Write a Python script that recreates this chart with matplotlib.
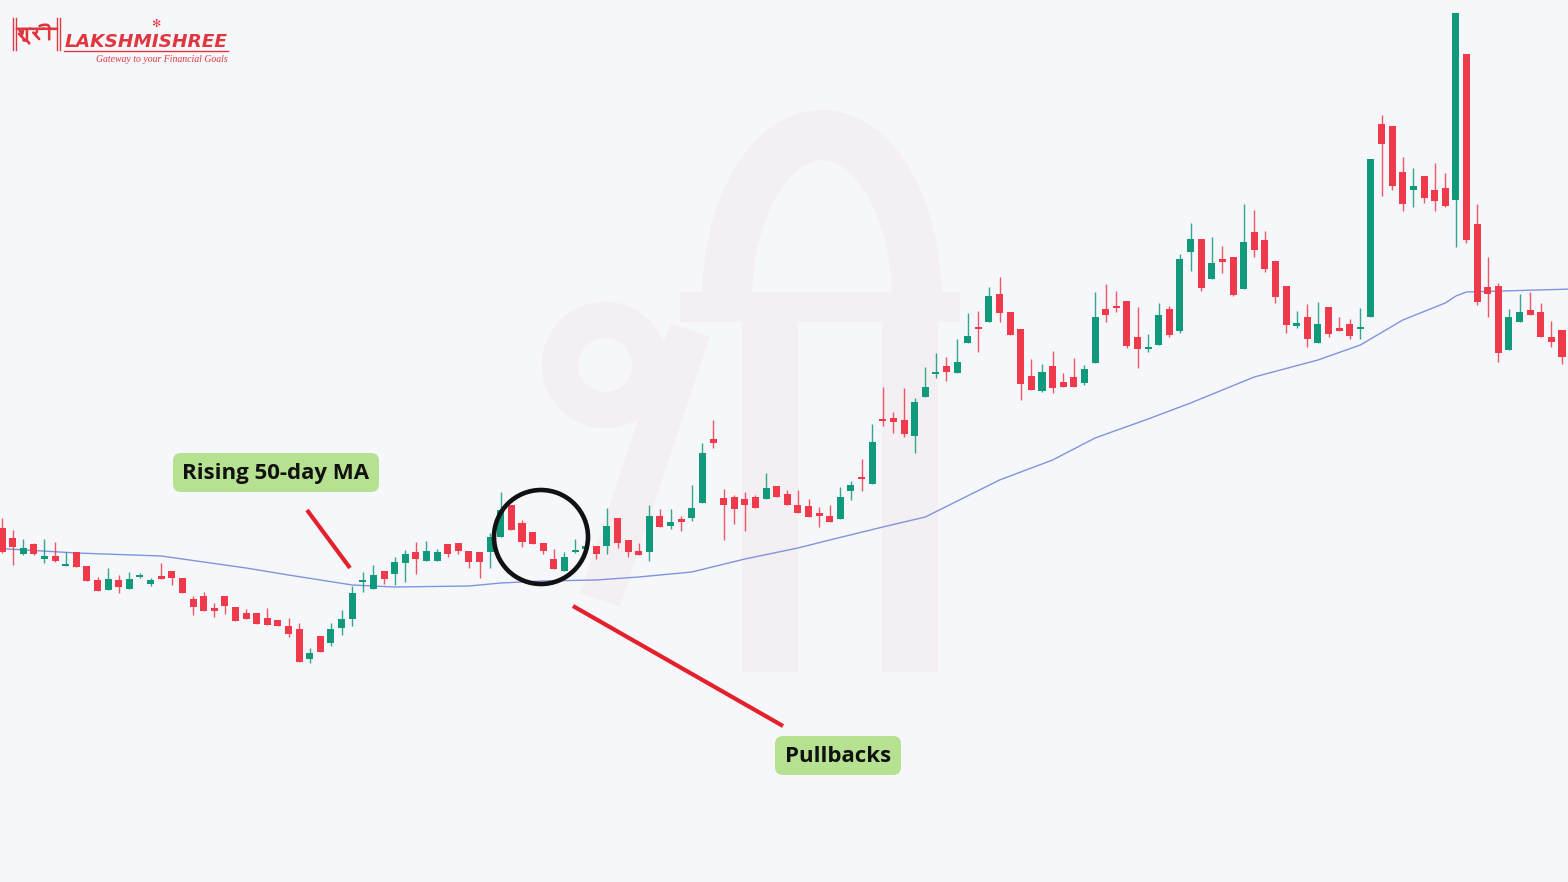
import matplotlib.pyplot as plt
import matplotlib.patheffects as pe
from matplotlib.patches import FancyBboxPatch, Circle, Rectangle, Arc
from matplotlib.font_manager import fontManager, FontProperties
from matplotlib.ft2font import FT2Font

# OHLC values, one candle per session
opens = [172, 162, 146, 156, 141, 144, 134, 148, 134, 120,
         110, 120, 111, 123, 116, 124, 129, 122, 101, 104,
         92, 104, 93, 87, 87, 82, 80, 74, 71, 41,
         64, 57, 72, 81, 118, 111, 129, 126, 137, 148,
         139, 139, 156, 157, 149, 148, 148, 163, 195, 177,
         168, 157, 141, 129, 148, 151, 154, 154, 182, 160,
         149, 148, 184, 174, 181, 182, 197, 261, 202, 203,
         201, 203, 201, 214, 206, 195, 194, 187, 184, 181,
         209, 223, 216, 281, 282, 280, 264, 303, 326, 334,
         327, 357, 373, 378, 406, 388, 371, 324, 309, 334,
         318, 323, 317, 337, 391, 394, 399, 363, 351, 355,
         391, 369, 448, 461, 421, 441, 443, 411, 468, 460,
         439, 414, 374, 383, 357, 393, 372, 376, 371, 383,
         576, 574, 528, 510, 524, 510, 512, 500, 646, 476,
         413, 414, 350, 378, 390, 388, 363, 370]
closes = [148, 153, 152, 146, 144, 139, 136, 133, 119, 109,
          121, 113, 121, 125, 120, 121, 122, 107, 93, 89,
          89, 94, 79, 81, 76, 75, 74, 66, 38, 47,
          48, 71, 81, 107, 120, 125, 121, 138, 146, 141,
          149, 148, 146, 149, 138, 138, 163, 190, 170, 158,
          156, 149, 131, 143, 150, 154, 146, 174, 157, 148,
          145, 184, 173, 178, 178, 192, 247, 257, 195, 191,
          195, 192, 212, 203, 195, 187, 183, 184, 178, 203,
          215, 221, 258, 279, 278, 266, 298, 313, 328, 328,
          338, 364, 371, 404, 387, 365, 316, 310, 328, 312,
          313, 313, 331, 383, 385, 392, 354, 351, 353, 385,
          365, 441, 461, 412, 437, 438, 405, 458, 450, 431,
          403, 375, 377, 361, 376, 366, 369, 364, 372, 541,
          556, 514, 496, 514, 502, 499, 494, 687, 460, 398,
          406, 347, 383, 388, 385, 363, 358, 343]
highs = [182, 170, 161, 157, 161, 158, 148, 148, 134, 123,
         132, 125, 128, 127, 122, 137, 129, 122, 104, 108,
         97, 104, 93, 91, 87, 92, 80, 82, 77, 52,
         64, 77, 90, 114, 128, 135, 129, 143, 150, 158,
         159, 151, 156, 157, 149, 148, 167, 208, 195, 180,
         168, 157, 151, 148, 161, 160, 154, 192, 182, 160,
         157, 195, 191, 191, 184, 215, 257, 280, 211, 205,
         208, 205, 227, 214, 210, 210, 201, 193, 195, 213,
         219, 241, 276, 313, 288, 312, 302, 333, 347, 343,
         361, 387, 389, 413, 423, 388, 371, 341, 336, 349,
         327, 342, 335, 408, 416, 409, 399, 393, 366, 397,
         394, 446, 477, 461, 463, 454, 443, 496, 490, 469,
         439, 414, 389, 396, 398, 393, 383, 381, 392, 541,
         585, 574, 543, 532, 524, 537, 527, 687, 646, 496,
         443, 417, 391, 406, 408, 397, 379, 370]
lows = [147, 135, 145, 145, 137, 138, 134, 133, 119, 109,
        110, 107, 111, 122, 114, 121, 115, 107, 85, 89,
        83, 86, 79, 81, 76, 75, 74, 63, 38, 37,
        48, 54, 65, 74, 108, 111, 116, 115, 118, 126,
        139, 139, 143, 146, 132, 122, 132, 163, 170, 153,
        156, 146, 131, 129, 147, 148, 141, 146, 152, 143,
        145, 139, 173, 171, 169, 179, 197, 252, 160, 176,
        169, 192, 201, 203, 195, 187, 183, 173, 178, 181,
        200, 209, 216, 274, 267, 263, 247, 303, 322, 319,
        327, 357, 348, 378, 378, 365, 300, 310, 308, 307,
        313, 313, 315, 337, 378, 388, 352, 332, 348, 355,
        363, 367, 429, 409, 421, 427, 404, 411, 443, 428,
        397, 367, 372, 353, 357, 363, 369, 361, 361, 383,
        504, 510, 489, 493, 497, 489, 493, 453, 457, 395,
        383, 338, 350, 378, 385, 363, 353, 336]

# 50-day moving average, read at a few sessions
ma_x = [-1, 7, 15, 19, 23, 27, 33, 37, 44, 47, 51, 56, 60, 65, 70, 75, 78,
        83, 87, 94, 99, 103, 108, 112, 118, 124, 128, 132, 136, 137, 138, 148]
ma_y = [152, 147, 144, 138, 132, 125, 115, 113, 114, 117, 119, 120, 123, 128, 141, 152, 160,
        173, 183, 220, 240, 262, 281, 297, 323, 340, 355, 380, 397, 404, 408, 411]

BG = '#f5f7fb'
UP = '#10997a'
DOWN = '#ee3a4b'
MARK = '#f3eff2'
W, H = 1568, 882


def font_file_for(text):
    # a font file that holds every glyph of text; avoid pixel fonts if possible
    hits = []
    for f in fontManager.ttflist:
        try:
            cmap = FT2Font(f.fname).get_charmap()
        except Exception:
            continue
        if all(ord(ch) in cmap for ch in text):
            hits.append(f.fname)
    good = [p for p in hits if 'unifont' not in p.lower()]
    return (good or hits or [None])[0]


fig = plt.figure(figsize=(W / 100, H / 100), dpi=100, facecolor=BG)

# background layer in pixel units: faint watermark
ov = fig.add_axes([0, 0, 1, 1])
ov.set_xlim(0, W)
ov.set_ylim(H, 0)
ov.axis('off')
ov.set_zorder(0)
ov.add_patch(Rectangle((680, 292), 280, 30, fc=MARK, ec='none'))
ov.add_patch(Rectangle((742, 292), 56, 380, fc=MARK, ec='none'))
ov.add_patch(Rectangle((882, 292), 56, 380, fc=MARK, ec='none'))
ov.add_patch(Arc((822, 300), 190, 330, theta1=180, theta2=360, ec=MARK, lw=36))
ov.add_patch(Circle((605, 365), 45, fill=False, ec=MARK, lw=26))
ov.plot([690, 600], [330, 600], color=MARK, lw=30, solid_capstyle='butt')

ax = fig.add_axes([0, 0, 1, 1])
ax.set_zorder(1)
ax.patch.set_alpha(0)
step = 1560 / 147
ax.set_xlim(-2 / step, (W - 2) / step)
ax.set_ylim(-182, 700)
ax.axis('off')

ax.plot(ma_x, ma_y, color='#8194dd', lw=1.0, zorder=1)

for i in range(len(opens)):
    o, c, hi, lo = opens[i], closes[i], highs[i], lows[i]
    col = UP if c >= o else DOWN
    ax.vlines(i, lo, hi, color=col, lw=1.0, alpha=0.85, zorder=2)
    ax.bar(i, max(abs(c - o), 2.5), bottom=min(o, c), width=0.66,
           color=col, lw=0, zorder=3)

# call-outs, drawn in pixels on top
top = fig.add_axes([0, 0, 1, 1])
top.set_zorder(2)
top.patch.set_alpha(0)
top.set_xlim(0, W)
top.set_ylim(H, 0)
top.axis('off')

top.add_patch(Circle((541, 537), 47, fill=False, ec='#111111', lw=3.3))
top.plot([307, 350], [510, 568], color='#e4202b', lw=3.0, solid_capstyle='butt')
top.plot([573, 783], [606, 726], color='#e4202b', lw=3.0, solid_capstyle='butt')

for x0, y0, w, h, label in [(173, 453, 206, 39, 'Rising 50-day MA'),
                            (775, 736, 126, 39, 'Pullbacks')]:
    top.add_patch(FancyBboxPatch((x0, y0), w, h,
                                 boxstyle='round,pad=0,rounding_size=8',
                                 fc='#b6e190', ec='none'))
    top.text(x0 + w / 2, y0 + h / 2 + 1, label, fontsize=16, fontweight='bold',
             family='Open Sans', color='#111111', ha='center', va='center')

# logo
LOGO = '#e0373f'
for xb in (13, 16, 57, 60):
    top.plot([xb, xb], [18, 50], color=LOGO, lw=1.0)
shri = 'श्री'
deva = font_file_for(shri)
if deva:
    top.text(37, 34, shri, fontproperties=FontProperties(fname=deva, size=16),
             color=LOGO, ha='center', va='center',
             path_effects=[pe.withStroke(linewidth=1.2, foreground=LOGO)])
top.text(65, 47, 'LAKSHMISHREE', fontsize=13.3, color=LOGO, family='DejaVu Sans',
         fontweight='bold', style='oblique', ha='left', va='baseline')
top.plot([64, 228], [51, 51], color=LOGO, lw=1.0)
top.text(156, 24, '✻', fontsize=8, color=LOGO, ha='center', va='center')
top.text(228, 62, 'Gateway to your Financial Goals', fontsize=7, color=LOGO,
         family='Liberation Serif', style='italic', ha='right', va='baseline')

fig.savefig('out.png', dpi=100, facecolor=BG)
